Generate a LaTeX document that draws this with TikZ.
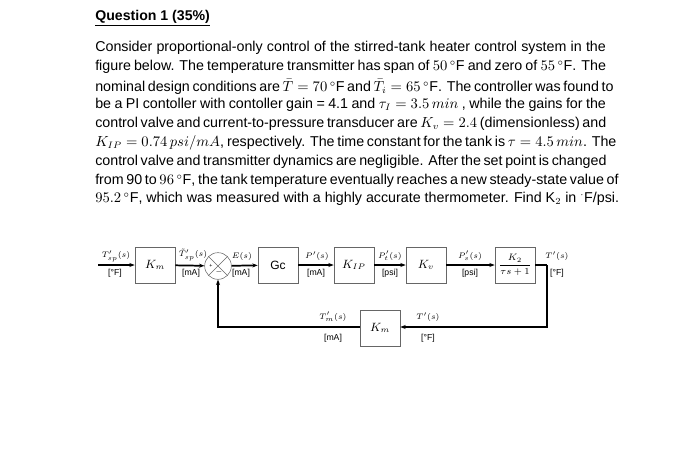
\documentclass[tikz,border=0pt]{standalone}
\usepackage{fontspec}
\setmainfont{Liberation Sans}
\usepackage{amsmath}
\usetikzlibrary{arrows.meta}
\begin{document}
\begin{tikzpicture}[x=0.75pt,y=-0.75pt,
  blk/.style={draw=black!60,line width=0.5pt,minimum width=30pt,minimum height=27pt,inner sep=1pt,font=\small},
  sig/.style={line width=1.3pt,-{Stealth[length=4pt]}},
  wire/.style={line width=1.3pt},
  lab/.style={font=\fontsize{6.5pt}{7pt}\selectfont,inner sep=1pt},
  para/.style={anchor=west,inner sep=0pt,font=\fontsize{10.7pt}{12pt}\selectfont}]
\useasboundingbox (0,0) rectangle (700,462);
\node[anchor=west,inner sep=0pt,font=\fontsize{10.6pt}{12pt}\selectfont\bfseries] (title) at (95,18) {\underline{Question 1 (35\%)}};
\def\W{383pt}
\node[para] (l1) at (95,48) {\makebox[\W][s]{Consider proportional-only control of the stirred-tank heater control system in the}};
\node[para] (l2) at (95,67) {\makebox[\W][s]{figure below. The temperature transmitter has span of $50\,^\circ\mathrm{F}$ and zero of $55\,^\circ\mathrm{F}$. The}};
\node[para] (l3) at (95,87) {\makebox[\W][s]{nominal design conditions are $\bar T=70\,^\circ\mathrm{F}$ and $\bar T_i=65\,^\circ\mathrm{F}$. The controller was found to}};
\node[para] (l4) at (95,105) {\makebox[\W][s]{be a PI contoller with contoller gain = 4.1 and $\tau_I=3.5\,min$ , while the gains for the}};
\node[para] (l5) at (95,124) {\makebox[\W][s]{control valve and current-to-pressure transducer are $K_v=2.4$ (dimensionless) and}};
\node[para] (l6) at (95,143) {\makebox[\W][s]{$K_{IP}=0.74\,psi/mA$, respectively. The time constant for the tank is $\tau=4.5\,min$. The}};
\node[para] (l7) at (95,162) {\makebox[\W][s]{control valve and transmitter dynamics are negligible. After the set point is changed}};
\node[para] (l8) at (95,181) {\makebox[\W][s]{from 90 to $96\,^\circ\mathrm{F}$, the tank temperature eventually reaches a new steady-state value of}};
\node[para] (l9) at (95,199) {$95.2\,^\circ\mathrm{F}$, which was measured with a highly accurate thermometer. Find K$_2$ in $^{\cdot}$F/psi.};

% diagram
\coordinate (in) at (98,265);
\node[blk] (km) at (155,265) {$K_m$};
\node[draw=black!60,circle,minimum size=20pt,inner sep=0pt] (sum) at (218,266) {};
\draw[black!60] (sum.north west) -- (sum.south east) (sum.north east) -- (sum.south west);
\node[font=\fontsize{4}{4}\selectfont] at (211,266) {+};
\node[font=\fontsize{4}{4}\selectfont] at (219,272) {$-$};
\node[blk] (gc) at (278,265) {Gc};
\node[blk] (kip) at (354,265) {$K_{IP}$};
\node[blk] (kv) at (426,265) {$K_v$};
\node[blk,font=\scriptsize] (tank) at (515,265) {$\dfrac{K_2}{\tau s+1}$};
\coordinate (out) at (547,265);
\node[blk] (kmf) at (380,328) {$K_m$};
\coordinate (c1) at (547,327);
\coordinate (c2) at (218,327);

\draw[sig] (in) -- (km);
\draw[sig] (km) -- (sum);
\draw[sig] (sum) -- (gc);
\draw[sig] (gc) -- (kip);
\draw[sig] (kip) -- (kv);
\draw[sig] (kv) -- (tank);
\draw[wire] (tank.east) -- (out);
\draw[sig] (out) -- (c1) -- (kmf.east |- c1);
\draw[sig] (kmf.west |- c2) -- (c2) -- (sum);

\node[lab] at (116,256) {$T'_{sp}(s)$}; \node[lab] at (115,273) {[°F]};
\node[lab] at (193,255) {$\tilde T'_{sp}(s)$}; \node[lab] at (191,273) {[mA]};
\node[lab] at (242,256) {$E(s)$}; \node[lab] at (241,273) {[mA]};
\node[lab] at (317,256) {$P'(s)$}; \node[lab] at (316,273) {[mA]};
\node[lab] at (390,256) {$P'_t(s)$}; \node[lab] at (390,273) {[psi]};
\node[lab] at (470,256) {$P'_s(s)$}; \node[lab] at (470,273) {[psi]};
\node[lab] at (557,256) {$T'(s)$}; \node[lab] at (557,273) {[°F]};
\node[lab] at (428,317) {$T'(s)$}; \node[lab] at (428,338) {[°F]};
\node[lab] at (333,317) {$T'_m(s)$}; \node[lab] at (333,338) {[mA]};
\end{tikzpicture}
\end{document}
